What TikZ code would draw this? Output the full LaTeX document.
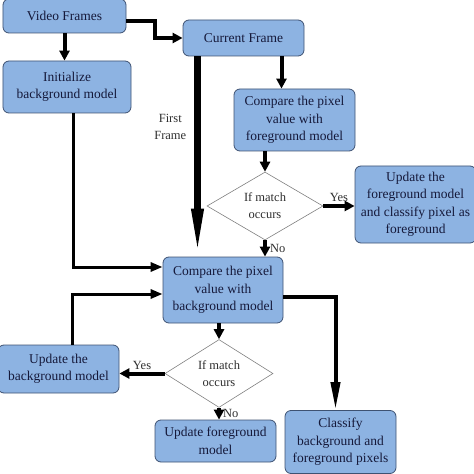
\documentclass[tikz,border=0pt]{standalone}
\usepackage{fontspec}
\setmainfont{Liberation Serif}
\usepackage{tikz}
\usetikzlibrary{arrows, arrows.meta, positioning, shapes}
\definecolor{boxblue}{HTML}{8DB3E2}
\definecolor{boxline}{HTML}{3E5272}
\definecolor{boxtext}{HTML}{15193A}
\definecolor{diatext}{HTML}{2E2E2E}

\begin{document}
\begin{tikzpicture}[x=1bp, y=-1bp,
	box/.style={draw=boxline, fill=boxblue, rounded corners=6bp, line width=0.8bp,
		align=center, inner sep=1bp, text=boxtext,
		font=\fontsize{13.5bp}{17.5bp}\selectfont},
	decision/.style={draw=gray, fill=white, diamond, inner sep=0pt, line width=0.6bp,
		align=center, text=diatext, font=\fontsize{12.5bp}{17bp}\selectfont},
	flow/.style={line width=4bp, -{Triangle[length=10bp, width=10bp]}},
	thinflow/.style={line width=3bp, -{Triangle[length=12bp, width=9bp]}},
	tag/.style={text=diatext, font=\fontsize{12.5bp}{17bp}\selectfont, inner sep=1bp, align=center}]

\useasboundingbox (0,0) rectangle (474,474);

% top row
\node[box, minimum width=123bp, minimum height=34bp] (vf) at (64.5, 16) {Video Frames};
\node[box, minimum width=128bp, minimum height=52bp] (init) at (67, 87) {Initialize\\background model};
\node[box, minimum width=121bp, minimum height=36bp] (cf) at (243.5, 38) {Current Frame};

% foreground branch
\node[box, minimum width=121bp, minimum height=62bp] (cfg) at (294.5, 120) {Compare the pixel\\value with\\foreground model};
\node[decision, minimum width=116bp, minimum height=56bp] (dfg) at (265, 206) {If match\\occurs};
\node[box, minimum width=121bp, minimum height=77bp] (ufg) at (415.5, 204.5) {Update the\\foreground model\\and classify pixel as\\foreground};

% background branch
\node[box, minimum width=120bp, minimum height=66bp] (cbg) at (223, 290) {Compare the pixel\\value with\\background model};
\node[decision, minimum width=108bp, minimum height=47bp] (dbg) at (219, 373.5) {If match\\occurs};
\node[box, minimum width=121bp, minimum height=48bp] (ubg) at (58.5, 369) {Update the\\background model};
\node[box, minimum width=121bp, minimum height=42bp] (ufm) at (215.5, 441) {Update foreground\\model};
\node[box, minimum width=111bp, minimum height=63bp] (cls) at (340.5, 442) {Classify\\background and\\foreground pixels};

% connectors
\draw[flow] (vf.south) -- (vf.south |- init.north);
\draw[flow] ([yshift=-5bp]vf.east) -- ++(29, 0) |- (cf.west);
\draw[line width=6.5bp, -{Triangle[length=48bp, width=11bp]}] ([xshift=-46bp]cf.south) -- ([xshift=-46bp]cf.south |- cbg.north)
	node[pos=0.35, left=7bp, tag] {First\\Frame};
\draw[flow] ([xshift=38bp]cf.south) -- ([xshift=38bp]cf.south |- cfg.north);
\draw[flow] (dfg.north |- cfg.south) -- (dfg.north);
\draw[flow] (dfg.east) -- node[above=1bp, tag] {Yes} (dfg.east -| ufg.west);
\draw[flow] (dfg.south) -- node[right=2bp, tag] {No} (dfg.south |- cbg.north);
\draw[thinflow] ([xshift=6bp]init.south) |- ([yshift=23bp]cbg.west);
\draw[thinflow] ([xshift=14bp]ubg.north) |- ([yshift=-4bp]cbg.west);
\draw[flow] (dbg.north |- cbg.south) -- (dbg.north);
\draw[flow] (dbg.west) -- node[above=1bp, tag] {Yes} (dbg.west -| ubg.east);
\draw[flow] (dbg.south) -- node[right=1bp, tag] {No} (dbg.south |- ufm.north);
\draw[line width=4bp, -{Triangle[length=28bp, width=9bp]}] ([yshift=-7bp]cbg.east) -| ([xshift=-5bp]cls.north);

\end{tikzpicture}
\end{document}
